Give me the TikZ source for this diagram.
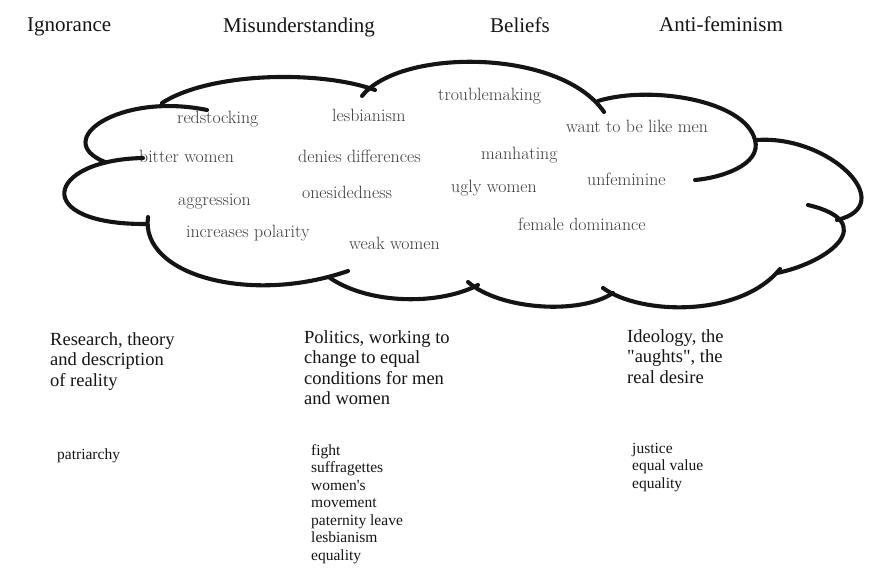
\documentclass[tikz,border=0pt]{standalone}
\usepackage{fontspec}
\newfontfamily\tnr{Liberation Serif}
\definecolor{fg}{RGB}{20,20,20}
\definecolor{mu}{RGB}{58,58,58}
\tikzset{
  every picture/.style={fg, line cap=round, line join=round},
  % Wolke
  cloudline/.style={line width=4.1pt, fg},
  word/.style={anchor=base west, inner sep=0pt, text=mu,
    font=\fontsize{17.8}{20}\selectfont\addfontfeature{FakeBold=0.6}},
  % Beschriftung
  head/.style={anchor=base west, inner sep=0pt,
    font=\tnr\fontsize{21}{25}\selectfont},
  para/.style={anchor=base west, inner sep=0pt,
    font=\tnr\fontsize{18.5}{20.6}\selectfont},
  items/.style={anchor=base west, inner sep=0pt,
    font=\tnr\fontsize{15.5}{17.5}\selectfont},
}
\begin{document}
\begin{tikzpicture}[x=1pt, y=-1pt]
  \useasboundingbox (0,0) rectangle (893,577);
  % Überschriften
  \node[head] (ign) at (27,32) {Ignorance};
  \node[head] (mis) at (223,33) {Misunderstanding};
  \node[head] (bel) at (490,33) {Beliefs};
  \node[head] (anti) at (659,32) {Anti-feminism};
  % Begriffe in der Wolke
  \node[word] (red) at (177,124) {redstocking};
  \node[word] (lesb) at (332,122) {lesbianism};
  \node[word] (troub) at (438,101) {troublemaking};
  \node[word] (likemen) at (566,133) {want to be like men};
  \node[word] (bitter) at (139,163) {bitter women};
  \node[word] (denies) at (298,163) {denies differences};
  \node[word] (manh) at (481,160) {manhating};
  \node[word] (aggr) at (178,206) {aggression};
  \node[word] (ones) at (302,199) {onesidedness};
  \node[word] (ugly) at (451,193) {ugly women};
  \node[word] (unfem) at (587,186) {unfeminine};
  \node[word] (polar) at (186,237) {increases polarity};
  \node[word] (weak) at (349,249) {weak women};
  \node[word] (fdom) at (518,230) {female dominance};
  % Umriss der Wolke (einzelne Bögen)
  \draw[cloudline] (162,103) .. controls (210,72) and (320,70) .. (375,90);
  \draw[cloudline] (362,96) .. controls (400,48) and (560,48) .. (604,112);
  \draw[cloudline] (598,101) .. controls (650,85) and (745,100) .. (755,140)
    .. controls (762,165) and (720,178) .. (695,180);
  \draw[cloudline] (757,140) .. controls (830,135) and (900,205) .. (837,220);
  \draw[cloudline] (808,205) .. controls (880,222) and (830,262) .. (777,273);
  \draw[cloudline] (780,269) .. controls (740,318) and (640,315) .. (603,288);
  \draw[cloudline] (613,293) .. controls (580,315) and (500,310) .. (468,282);
  \draw[cloudline] (478,285) .. controls (440,305) and (370,305) .. (330,278);
  \draw[cloudline] (348,271) .. controls (250,305) and (140,275) .. (148,217);
  \draw[cloudline] (147,224) .. controls (30,225) and (45,160) .. (143,158);
  \draw[cloudline] (105,162) .. controls (50,140) and (120,92) .. (207,110);
  % Spalten unten
  \node[para] (research) at (50,345) {\begin{tabular}[t]{@{}l@{}}Research, theory\\and description\\of reality\end{tabular}};
  \node[para] (politics) at (304,343) {\begin{tabular}[t]{@{}l@{}}Politics, working to\\change to equal\\conditions for men\\and women\end{tabular}};
  \node[para] (ideology) at (627,342) {\begin{tabular}[t]{@{}l@{}}Ideology, the\\"aughts", the\\real desire\end{tabular}};
  \node[items] (patr) at (57,459) {patriarchy};
  \node[items] (fight) at (311,455) {\begin{tabular}[t]{@{}l@{}}fight\\suffragettes\\women's\\movement\\paternity leave\\lesbianism\\equality\end{tabular}};
  \node[items] (justice) at (632,453) {\begin{tabular}[t]{@{}l@{}}justice\\equal value\\equality\end{tabular}};
\end{tikzpicture}
\end{document}
